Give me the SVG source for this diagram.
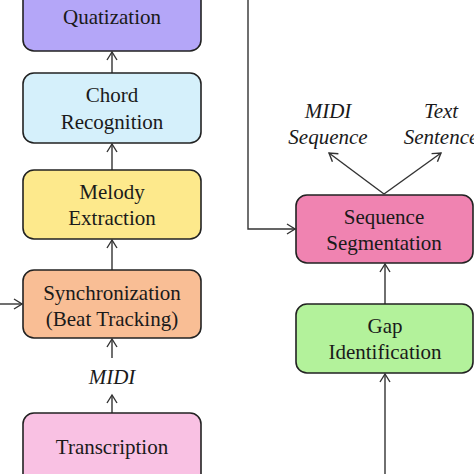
<svg xmlns="http://www.w3.org/2000/svg" width="474" height="474" viewBox="0 0 474 474">
<style>
.box{stroke:#222;stroke-width:1.6}
.t{font-family:"Liberation Serif","Times New Roman",serif;font-size:21px;fill:#1a1a1a;text-anchor:middle}
.i{font-style:italic}
.c{fill:none;stroke:#333;stroke-width:1.4}
</style>
<defs>
<marker id="a" markerWidth="12" markerHeight="12" refX="10" refY="6" orient="auto" markerUnits="userSpaceOnUse">
<path d="M2,1 L10,6 L2,11" fill="none" stroke="#333" stroke-width="1.4"/>
</marker>
</defs>
<rect width="474" height="474" fill="#fff"/>
<g id="connectors">
<line class="c" x1="112" y1="73" x2="112" y2="52" marker-end="url(#a)"/>
<line class="c" x1="112" y1="170" x2="112" y2="144" marker-end="url(#a)"/>
<line class="c" x1="112" y1="270" x2="112" y2="240" marker-end="url(#a)"/>
<line class="c" x1="0" y1="304" x2="22" y2="304" marker-end="url(#a)"/>
<line class="c" x1="112" y1="358" x2="112" y2="339" marker-end="url(#a)"/>
<line class="c" x1="112" y1="413" x2="112" y2="395" marker-end="url(#a)"/>
<polyline class="c" points="248,0 248,229 295,229" marker-end="url(#a)"/>
<line class="c" x1="384" y1="194" x2="329" y2="153" marker-end="url(#a)"/>
<line class="c" x1="384" y1="194" x2="441" y2="153" marker-end="url(#a)"/>
<line class="c" x1="385" y1="304" x2="385" y2="264" marker-end="url(#a)"/>
<line class="c" x1="385" y1="474" x2="385" y2="374" marker-end="url(#a)"/>
</g>
<g id="quatization">
<rect class="box" x="23" y="-20" width="178" height="71" rx="11" fill="#b4a6f8"/>
<text class="t" x="112" y="24">Quatization</text>
</g>
<g id="chord">
<rect class="box" x="23" y="73" width="178" height="70" rx="11" fill="#d5f0fb"/>
<text class="t" x="112" y="102">Chord</text>
<text class="t" x="112" y="129">Recognition</text>
</g>
<g id="melody">
<rect class="box" x="23" y="170" width="178" height="69" rx="11" fill="#fde98c"/>
<text class="t" x="112" y="199">Melody</text>
<text class="t" x="112" y="225">Extraction</text>
</g>
<g id="sync">
<rect class="box" x="23" y="270" width="178" height="68" rx="11" fill="#f9be95"/>
<text class="t" x="112" y="300">Synchronization</text>
<text class="t" x="112" y="326">(Beat Tracking)</text>
</g>
<g id="midi-label">
<text class="t i" x="112" y="384">MIDI</text>
</g>
<g id="transcription">
<rect class="box" x="23" y="413" width="178" height="80" rx="11" fill="#f9c1e3"/>
<text class="t" x="112" y="454">Transcription</text>
</g>
<g id="segmentation">
<rect class="box" x="296" y="195" width="177" height="68" rx="11" fill="#f083b1"/>
<text class="t" x="384" y="224">Sequence</text>
<text class="t" x="384" y="250">Segmentation</text>
</g>
<g id="outputs">
<text class="t i" x="328" y="118">MIDI</text>
<text class="t i" x="328" y="144">Sequence</text>
<text class="t i" x="441" y="118">Text</text>
<text class="t i" x="441" y="144">Sentence</text>
</g>
<g id="gap">
<rect class="box" x="296" y="304" width="177" height="69" rx="11" fill="#b3f29b"/>
<text class="t" x="385" y="333">Gap</text>
<text class="t" x="385" y="359">Identification</text>
</g>
</svg>
